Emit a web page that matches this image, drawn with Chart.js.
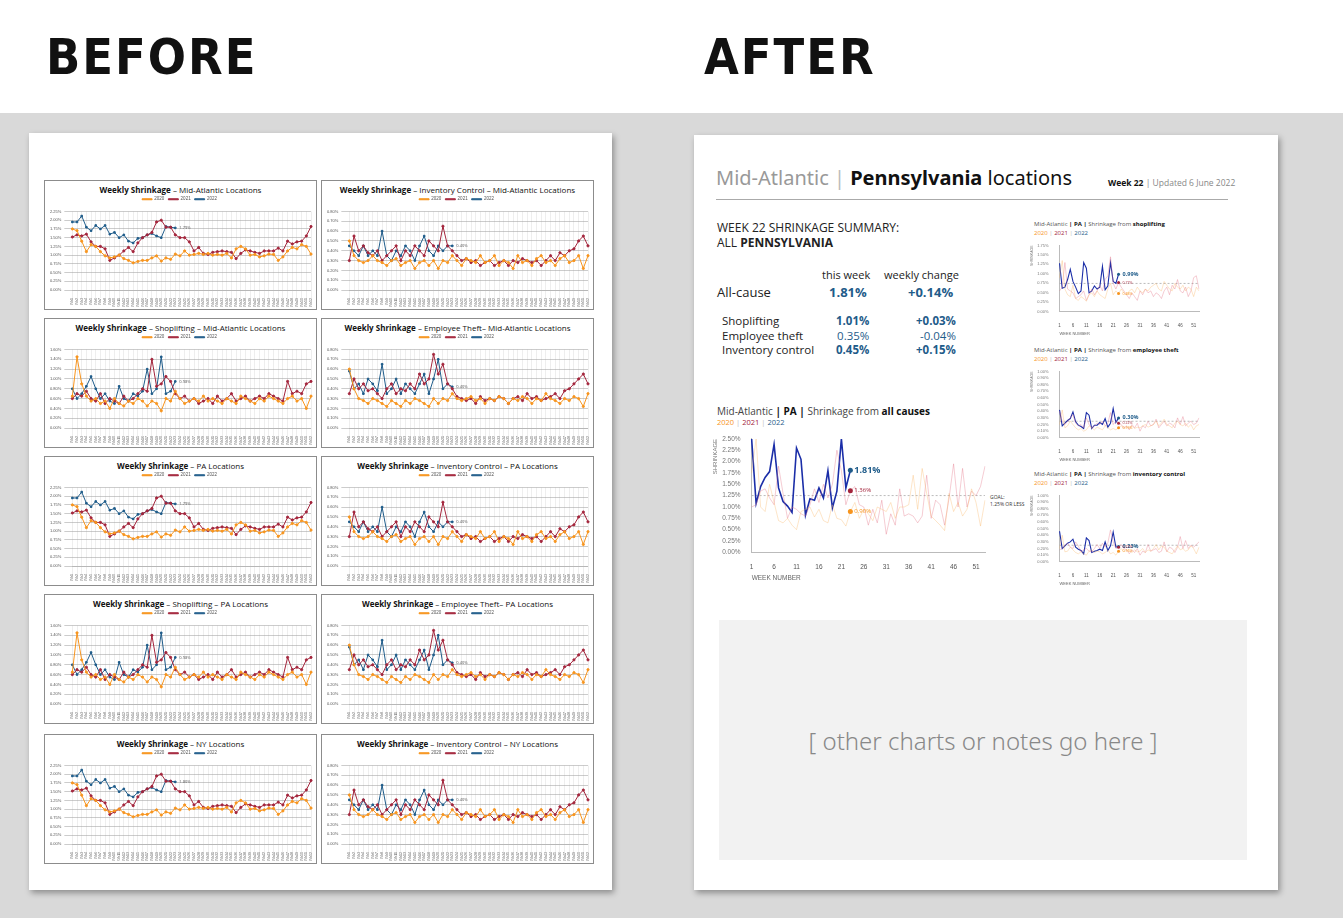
<!DOCTYPE html>
<html>
<head>
<meta charset="utf-8">
<script src="https://cdn.jsdelivr.net/npm/chart.js@4.4.0/dist/chart.umd.min.js"></script>
<style>
  body { margin: 0; width: 1343px; height: 918px; background: #fff; font-family: "Open Sans", sans-serif; position: relative; overflow: hidden; }
  .abs { position: absolute; }
  .hand { font-family: "DejaVu Sans Condensed", "DejaVu Sans", sans-serif; font-weight: bold; font-size: 50px; letter-spacing: 2px; color: #111; }
  .band { left: 0; top: 113px; width: 1343px; height: 805px; background: #d9d9d9; }
  .paper { background: #fff; box-shadow: 2px 3px 6px rgba(0,0,0,0.35); }
  .box { border: 1px solid #8c8c8c; background: #fff; width: 271px; height: 128px; }
  .box .t { position: absolute; left: 0; right: 0; top: 3px; text-align: center; font-family: "Open Sans", sans-serif; font-size: 8px; color: #111; }
  .box canvas { position: absolute; left: 0; top: 12px; }
  .sm { font-size: 7px; color: #555; }
  .yr { font-size: 6px; }
</style>
</head>
<body>
<div class="abs hand" style="left:46px;top:28px;">BEFORE</div>
<div class="abs hand" style="left:704px;top:28px;">AFTER</div>
<div class="abs band"></div>
<div class="abs paper" style="left:29px;top:133px;width:583px;height:757px;"></div>
<div class="abs paper" style="left:694px;top:135px;width:584px;height:755px;"></div>
<div id="before"></div>

<!-- after page text -->
<div class="abs" style="left:716px;top:164px;font-size:20px;font-family:'Noto Sans',sans-serif;color:#999;">Mid-Atlantic <span style="color:#bbb">|</span> <b style="color:#111">Pennsylvania</b> <span style="color:#111">locations</span></div>
<div class="abs" style="left:1108px;top:177px;font-size:8.5px;color:#111;"><b>Week 22</b> <span style="color:#888">| Updated 6 June 2022</span></div>
<div class="abs" style="left:716px;top:199px;width:512px;height:1px;background:#aaa;"></div>

<div class="abs" style="left:717px;top:220px;font-size:12px;color:#222;line-height:15px;">WEEK 22 SHRINKAGE SUMMARY:<br>ALL <b>PENNSYLVANIA</b></div>
<div class="abs" style="left:822px;top:267px;font-size:11px;color:#222;">this week</div>
<div class="abs" style="left:884px;top:267px;font-size:11px;color:#222;">weekly change</div>
<div class="abs" style="left:717px;top:283px;font-size:13px;color:#222;">All-cause</div>
<div class="abs" style="left:829px;top:283px;font-size:13px;color:#1f5c8a;font-weight:bold;">1.81%</div>
<div class="abs" style="left:908px;top:283px;font-size:13px;color:#1f5c8a;font-weight:bold;">+0.14%</div>
<div class="abs" style="left:722px;top:314px;font-size:11.5px;color:#222;line-height:14.5px;">Shoplifting<br>Employee theft<br>Inventory control</div>
<div class="abs" style="left:836px;top:314px;font-size:11.5px;color:#1f5c8a;line-height:14.5px;text-align:right;"><b>1.01%</b><br>0.35%<br><b>0.45%</b></div>
<div class="abs" style="left:916px;top:314px;font-size:11.5px;color:#1f5c8a;line-height:14.5px;text-align:right;"><b>+0.03%</b><br>-0.04%<br><b>+0.15%</b></div>

<div class="abs" style="left:717px;top:404px;font-size:10px;color:#444;">Mid-Atlantic <b style="color:#111">| PA |</b> Shrinkage from <b style="color:#111">all causes</b></div>
<div class="abs" style="left:717px;top:417px;font-size:7.5px;"><span style="color:#f7941d">2020</span> <span style="color:#bbb">|</span> <span style="color:#a3243b">2021</span> <span style="color:#bbb">|</span> <span style="color:#1f5c8a">2022</span></div>
<canvas id="main" class="abs" style="left:712px;top:432px;width:276px;height:150px;"></canvas>
<div class="abs" style="left:990px;top:494px;font-size:5px;color:#333;line-height:7px;">GOAL:<br>1.25% OR LESS</div>

<div class="abs" style="left:719px;top:620px;width:528px;height:240px;background:#f2f2f2;"></div>
<div class="abs" style="left:719px;top:724px;width:528px;text-align:center;font-size:24px;color:#888;font-family:'Noto Sans',sans-serif;font-weight:300;">[ other charts or notes go here ]</div>
<div id="after"></div>

<script>
// ---- BEFORE data (weekly shrinkage %, weeks 1-52; 2022 to week 23) ----
const weeks52 = Array.from({ length: 52 }, (_, i) => 'Wk' + (i + 1));

const all2020 = [1.75,1.70,1.40,1.10,1.30,1.25,1.10,0.98,0.92,0.95,1.00,0.90,0.85,0.78,0.82,0.85,0.85,0.92,0.98,0.83,0.92,0.88,1.03,0.98,1.12,1.00,1.02,1.05,1.02,1.05,1.00,1.02,1.00,1.05,0.92,1.18,1.25,1.18,1.00,1.02,0.95,0.98,1.03,1.02,0.85,0.95,1.12,1.22,1.18,1.30,1.25,1.03];
const all2021 = [1.52,1.58,1.55,1.60,1.38,1.25,1.25,1.18,0.85,0.92,1.00,1.12,1.22,1.10,1.35,1.50,1.58,1.65,1.95,2.00,1.80,1.80,1.58,1.50,1.50,1.38,1.12,1.22,1.05,1.02,1.08,1.10,1.12,1.10,1.08,0.90,1.05,1.15,1.12,1.08,1.05,1.12,1.12,1.12,1.20,1.12,1.40,1.32,1.38,1.40,1.55,1.82];
const all2022 = [1.95,1.95,2.12,1.80,1.70,1.85,1.75,1.85,1.60,1.65,1.50,1.58,1.40,1.35,1.48,1.50,1.58,1.62,1.55,1.50,1.82,1.80,1.78];

const ic2020 = [0.50,0.35,0.30,0.28,0.30,0.35,0.30,0.28,0.25,0.30,0.32,0.25,0.28,0.30,0.22,0.28,0.30,0.25,0.30,0.22,0.30,0.28,0.35,0.30,0.25,0.32,0.30,0.28,0.35,0.28,0.30,0.35,0.25,0.30,0.28,0.22,0.35,0.28,0.30,0.25,0.32,0.35,0.28,0.30,0.25,0.32,0.35,0.28,0.30,0.35,0.22,0.35];
const ic2021 = [0.30,0.55,0.40,0.45,0.38,0.35,0.40,0.30,0.35,0.40,0.45,0.30,0.40,0.35,0.45,0.40,0.35,0.50,0.45,0.40,0.65,0.45,0.40,0.35,0.30,0.32,0.28,0.30,0.25,0.28,0.30,0.25,0.28,0.30,0.25,0.30,0.28,0.32,0.30,0.28,0.30,0.25,0.30,0.35,0.30,0.38,0.35,0.40,0.42,0.50,0.55,0.45];
const ic2022 = [0.45,0.40,0.35,0.45,0.35,0.40,0.35,0.60,0.35,0.30,0.40,0.35,0.45,0.40,0.30,0.45,0.55,0.40,0.35,0.45,0.40,0.45,0.45];

const sh2020 = [0.65,1.45,0.90,0.65,0.55,0.60,0.50,0.55,0.40,0.60,0.50,0.45,0.55,0.50,0.60,0.55,0.45,0.55,0.50,0.35,0.60,0.55,0.75,0.60,0.50,0.55,0.60,0.55,0.65,0.55,0.60,0.55,0.50,0.60,0.55,0.50,0.65,0.60,0.55,0.50,0.60,0.55,0.65,0.60,0.55,0.50,0.60,0.65,0.55,0.60,0.40,0.65];
const sh2021 = [0.60,0.70,0.65,0.75,0.60,0.55,0.70,0.50,0.60,0.55,0.50,0.65,0.55,0.60,0.70,0.80,0.75,1.40,0.85,0.90,1.05,0.95,0.70,0.60,0.65,0.55,0.60,0.50,0.55,0.60,0.50,0.65,0.55,0.60,0.70,0.55,0.60,0.65,0.55,0.60,0.65,0.60,0.70,0.65,0.60,0.55,0.95,0.70,0.75,0.70,0.90,0.95];
const sh2022 = [0.80,0.60,0.70,0.85,1.05,0.80,0.60,0.70,0.55,0.50,0.85,0.60,0.55,0.70,0.65,0.75,1.20,0.70,0.80,1.45,0.70,0.75,0.95];

const et2020 = [0.60,0.40,0.30,0.28,0.25,0.30,0.28,0.25,0.22,0.28,0.25,0.22,0.28,0.25,0.30,0.28,0.25,0.22,0.30,0.25,0.30,0.28,0.35,0.30,0.28,0.30,0.32,0.28,0.30,0.25,0.30,0.28,0.32,0.30,0.25,0.30,0.28,0.32,0.30,0.25,0.30,0.28,0.35,0.30,0.28,0.25,0.30,0.28,0.32,0.30,0.22,0.35];
const et2021 = [0.35,0.50,0.40,0.45,0.38,0.40,0.35,0.30,0.40,0.45,0.35,0.40,0.38,0.45,0.40,0.55,0.45,0.50,0.75,0.55,0.65,0.45,0.40,0.32,0.30,0.28,0.30,0.25,0.32,0.28,0.30,0.28,0.32,0.30,0.25,0.30,0.32,0.28,0.35,0.30,0.32,0.28,0.30,0.32,0.35,0.30,0.38,0.40,0.45,0.50,0.55,0.45];
const et2022 = [0.58,0.40,0.45,0.35,0.50,0.45,0.38,0.65,0.35,0.40,0.50,0.35,0.45,0.40,0.35,0.45,0.55,0.35,0.50,0.70,0.40,0.45,0.42];

// ---- AFTER data (PA, weeks 1-53) ----
const weeks53 = Array.from({ length: 53 }, (_, i) => String(i + 1));
const pa2020 = [1.75,2.50,1.00,0.90,1.50,1.10,0.70,0.65,0.75,0.60,0.50,0.90,0.95,1.00,0.78,0.95,0.70,0.65,1.05,0.75,0.72,0.58,0.90,1.10,0.75,0.95,0.85,0.70,1.00,0.95,0.90,1.10,0.75,1.00,1.00,1.05,1.70,0.95,1.85,1.30,0.80,0.70,0.60,0.48,1.30,0.90,1.10,0.80,0.95,1.40,1.10,0.58,1.15];
const pa2021 = [1.00,1.05,1.35,1.40,1.20,1.05,1.90,1.30,0.75,1.00,0.95,0.85,0.80,1.05,1.40,1.10,1.50,1.20,1.50,2.25,1.80,1.05,1.36,1.45,1.05,1.00,0.60,0.95,0.65,1.15,0.40,0.85,0.60,1.40,0.80,0.85,0.80,0.65,0.80,1.70,0.75,1.15,1.05,0.60,1.20,1.95,1.00,1.85,1.00,1.35,1.25,1.45,1.90];
const pa2022 = [2.50,1.08,1.45,1.65,1.78,2.38,1.42,1.12,1.02,0.88,2.30,2.05,0.82,1.18,1.15,1.42,1.20,1.80,0.98,1.35,2.50,1.42,1.81];

const paSh2020 = [0.90,1.35,0.60,0.45,0.40,0.70,0.35,0.30,0.40,0.35,0.28,0.45,0.50,0.40,0.55,0.45,0.40,0.35,0.60,0.75,0.45,0.55,0.48,0.60,0.50,0.45,0.55,0.60,0.50,0.65,0.55,0.50,0.60,0.55,0.65,0.70,0.75,0.60,0.55,0.80,0.70,0.60,0.55,0.75,0.65,0.60,0.70,0.55,0.65,0.60,0.40,0.65,0.55];
const paSh2021 = [0.55,0.65,1.30,0.60,0.55,0.50,0.35,0.40,0.45,0.55,0.30,0.45,0.60,0.45,0.55,0.70,0.55,0.85,0.95,1.45,0.75,0.60,0.77,0.65,0.55,0.45,0.35,0.50,0.40,0.30,0.55,0.45,0.60,0.50,0.55,0.40,0.50,0.45,0.35,0.55,0.65,0.45,0.70,0.60,0.85,0.55,0.50,0.65,0.40,0.55,0.90,0.95,0.60];
const paSh2022 = [1.28,0.62,0.65,0.85,1.12,0.80,0.65,0.48,0.55,1.30,1.15,0.50,0.55,0.68,0.60,0.65,1.20,0.58,0.68,1.30,0.80,0.75,0.99];

const paEt2020 = [0.20,0.42,0.15,0.18,0.25,0.20,0.15,0.12,0.14,0.10,0.12,0.18,0.15,0.12,0.16,0.14,0.12,0.18,0.15,0.12,0.14,0.12,0.15,0.18,0.14,0.16,0.15,0.18,0.14,0.16,0.15,0.18,0.20,0.16,0.18,0.20,0.25,0.18,0.22,0.28,0.20,0.18,0.15,0.22,0.25,0.20,0.18,0.22,0.16,0.20,0.12,0.18,0.20];
const paEt2021 = [0.40,0.25,0.20,0.25,0.30,0.35,0.22,0.18,0.20,0.15,0.30,0.20,0.15,0.18,0.22,0.20,0.25,0.18,0.22,0.38,0.20,0.25,0.22,0.20,0.15,0.18,0.12,0.20,0.15,0.22,0.10,0.18,0.15,0.25,0.18,0.20,0.28,0.15,0.20,0.25,0.18,0.22,0.20,0.15,0.30,0.20,0.32,0.18,0.22,0.25,0.20,0.22,0.30];
const paEt2022 = [0.42,0.18,0.22,0.26,0.29,0.39,0.24,0.19,0.17,0.14,0.38,0.34,0.14,0.19,0.19,0.23,0.20,0.29,0.16,0.22,0.44,0.23,0.30];

const paIc2020 = [0.20,0.40,0.15,0.16,0.22,0.18,0.14,0.12,0.15,0.12,0.10,0.16,0.18,0.14,0.16,0.15,0.12,0.14,0.18,0.12,0.14,0.10,0.16,0.20,0.15,0.18,0.16,0.14,0.18,0.15,0.16,0.20,0.14,0.18,0.16,0.20,0.26,0.18,0.24,0.22,0.16,0.14,0.12,0.18,0.24,0.18,0.20,0.16,0.18,0.24,0.20,0.12,0.22];
const paIc2021 = [0.18,0.20,0.25,0.28,0.22,0.20,0.30,0.24,0.15,0.18,0.20,0.16,0.15,0.20,0.26,0.20,0.28,0.22,0.28,0.48,0.30,0.20,0.22,0.26,0.20,0.18,0.12,0.18,0.14,0.20,0.10,0.16,0.14,0.26,0.16,0.18,0.20,0.14,0.16,0.30,0.15,0.22,0.20,0.14,0.22,0.38,0.20,0.32,0.20,0.25,0.22,0.26,0.30];
const paIc2022 = [0.46,0.20,0.24,0.28,0.30,0.34,0.22,0.19,0.17,0.12,0.36,0.32,0.14,0.16,0.17,0.19,0.17,0.30,0.17,0.24,0.45,0.22,0.23];

const C2020 = '#f7941d', C2021 = '#a3243b', C2022 = '#1f5c8a';

// ---------- BEFORE charts ----------
const beforeCharts = [
  { title: 'Mid-Atlantic Locations', y: [all2020, all2021, all2022], max: 2.25, step: 0.25, last: '1.79%' },
  { title: 'Inventory Control – Mid-Atlantic Locations', y: [ic2020, ic2021, ic2022], max: 0.80, step: 0.05, last: '0.40%' },
  { title: 'Shoplifting – Mid-Atlantic Locations', y: [sh2020, sh2021, sh2022], max: 1.60, step: 0.20, last: '0.98%' },
  { title: 'Employee Theft– Mid-Atlantic Locations', y: [et2020, et2021, et2022], max: 0.80, step: 0.05, last: '0.40%' },
  { title: 'PA Locations', y: [all2020, all2021, all2022], max: 2.25, step: 0.25, last: '1.79%' },
  { title: 'Inventory Control – PA Locations', y: [ic2020, ic2021, ic2022], max: 0.80, step: 0.05, last: '0.40%' },
  { title: 'Shoplifting – PA Locations', y: [sh2020, sh2021, sh2022], max: 1.60, step: 0.20, last: '0.98%' },
  { title: 'Employee Theft– PA Locations', y: [et2020, et2021, et2022], max: 0.80, step: 0.05, last: '0.40%' },
  { title: 'NY Locations', y: [all2020, all2021, all2022], max: 2.25, step: 0.25, last: '1.80%' },
  { title: 'Inventory Control – NY Locations', y: [ic2020, ic2021, ic2022], max: 0.80, step: 0.05, last: '0.40%' }
];
const colX = [44, 321];
const rowY = [180, 318, 456, 594, 734];

// draws a small value label after the last point of a chosen dataset
const endLabels = {
  id: 'endLabels',
  afterDatasetsDraw(chart, args, opts) {
    if (!opts.marks) return;
    const ctx = chart.ctx;
    opts.marks.forEach(m => {
      const pt = chart.getDatasetMeta(m.ds).data[m.idx];
      if (!pt) return;
      ctx.save();
      if (m.dot) {
        ctx.fillStyle = m.color;
        ctx.beginPath(); ctx.arc(pt.x, pt.y, m.dot, 0, Math.PI * 2); ctx.fill();
      }
      ctx.fillStyle = m.color;
      ctx.font = (m.bold ? 'bold ' : '') + m.size + 'px "Open Sans", sans-serif';
      ctx.textBaseline = 'middle';
      ctx.fillText(m.text, pt.x + (m.dx || 4), pt.y);
      ctx.restore();
    });
  }
};
// dashed goal line
const goalLine = {
  id: 'goalLine',
  beforeDatasetsDraw(chart, args, opts) {
    if (opts.value == null) return;
    const y = chart.scales.y.getPixelForValue(opts.value);
    const ctx = chart.ctx;
    ctx.save();
    ctx.strokeStyle = '#aaa'; ctx.lineWidth = 0.8; ctx.setLineDash([2, 2]);
    ctx.beginPath(); ctx.moveTo(chart.chartArea.left, y); ctx.lineTo(chart.chartArea.right, y); ctx.stroke();
    ctx.restore();
  }
};

const host = document.getElementById('before');
beforeCharts.forEach((c, i) => {
  const box = document.createElement('div');
  box.className = 'abs box';
  box.style.left = colX[i % 2] + 'px';
  box.style.top = rowY[Math.floor(i / 2)] + 'px';
  box.innerHTML = '<div class="t"><b>Weekly Shrinkage</b> – ' + c.title + '</div><canvas style="width:271px;height:116px"></canvas>';
  host.appendChild(box);
  const cv = box.querySelector('canvas');
  const mk = (label, data, color, shape) => ({
    label, data, borderColor: color, backgroundColor: color, borderWidth: 1,
    pointRadius: 1.1, pointStyle: shape, tension: 0
  });
  new Chart(cv, {
    type: 'line',
    data: {
      labels: weeks52,
      datasets: [mk('2020', c.y[0], C2020, 'circle'), mk('2021', c.y[1], C2021, 'circle'), mk('2022', c.y[2], C2022, 'rect')]
    },
    plugins: [endLabels],
    options: {
      responsive: false, animation: false,
      layout: { padding: { right: 4, left: 2, bottom: 2 } },
      plugins: {
        legend: { labels: { boxWidth: 10, boxHeight: 1, font: { size: 4.5 }, color: '#555', padding: 4 } },
        tooltip: { enabled: false },
        endLabels: { marks: [{ ds: 2, idx: 22, text: c.last, color: '#555', size: 4 }] }
      },
      scales: {
        x: { grid: { color: '#ddd', lineWidth: 0.5 }, ticks: { font: { size: 3.5 }, color: '#555', autoSkip: false, maxRotation: 90, minRotation: 90, padding: 0 } },
        y: { min: 0, max: c.max, grid: { color: '#999', lineWidth: 0.5 }, border: { display: false },
             ticks: { stepSize: c.step, font: { size: 4 }, color: '#555', callback: v => v.toFixed(2) + '%' } }
      }
    }
  });
});

// ---------- AFTER charts ----------
function afterChart(canvas, ys, max, step, goal, marks, big) {
  const faint = (data, color) => ({ data, borderColor: color, borderWidth: 1, pointRadius: 0, tension: 0 });
  new Chart(canvas, {
    type: 'line',
    data: {
      labels: weeks53,
      datasets: [
        faint(ys[0], 'rgba(250,180,100,0.35)'),
        faint(ys[1], 'rgba(225,110,130,0.35)'),
        { data: ys[2], borderColor: '#1b2ea8', borderWidth: big ? 1.6 : 1.1, pointRadius: 0, tension: 0 }
      ]
    },
    plugins: [endLabels, goalLine],
    options: {
      responsive: false, animation: false,
      layout: { padding: { right: 2 } },
      plugins: {
        legend: { display: false }, tooltip: { enabled: false },
        endLabels: { marks }, goalLine: { value: goal }
      },
      scales: {
        x: {
          grid: { display: false }, border: { color: '#bbb' },
          ticks: { autoSkip: false, maxRotation: 0, font: { size: big ? 6.5 : 4.5 }, color: '#555',
                   callback: (v, i) => (i % 5 === 0 ? weeks53[i] : '') },
          title: { display: true, text: 'WEEK NUMBER', align: 'start', font: { size: big ? 6.5 : 4 }, color: '#666', padding: 0 }
        },
        y: {
          min: 0, max, grid: { display: false }, border: { color: '#bbb' },
          ticks: { stepSize: step, autoSkip: false, font: { size: big ? 6.5 : 4 }, color: '#777', callback: v => v.toFixed(2) + '%' },
          title: { display: true, text: 'SHRINKAGE', align: 'end', font: { size: big ? 6 : 3.5 }, color: '#777', padding: 0 }
        }
      }
    }
  });
}
const dotMarks = (a, b, c, big) => [
  { ds: 2, idx: 22, text: a, color: C2022, size: big ? 9 : 5.5, bold: true, dot: big ? 2.5 : 1.5 },
  { ds: 1, idx: 22, text: b, color: C2021, size: big ? 6 : 3.5, dot: big ? 2.5 : 1.5 },
  { ds: 0, idx: 22, text: c, color: C2020, size: big ? 6 : 3.5, dot: big ? 2.5 : 1.5 }
];
afterChart(document.getElementById('main'), [pa2020, pa2021, pa2022], 2.5, 0.25, 1.25, dotMarks('1.81%', '1.36%', '0.90%', true), true);

const smalls = [
  { top: 220, what: 'shoplifting', ys: [paSh2020, paSh2021, paSh2022], max: 1.75, step: 0.25, goal: 0.75, m: ['0.99%', '0.77%', '0.48%'], g: '0.75% OR LESS' },
  { top: 346, what: 'employee theft', ys: [paEt2020, paEt2021, paEt2022], max: 1.0, step: 0.10, goal: 0.25, m: ['0.30%', '0.22%', '0.15%'], g: '0.25% OR LESS' },
  { top: 470, what: 'inventory control', ys: [paIc2020, paIc2021, paIc2022], max: 1.0, step: 0.10, goal: 0.25, m: ['0.23%', '0.22%', '0.16%'], g: '0.25% OR LESS' }
];
const ah = document.getElementById('after');
smalls.forEach(s => {
  const d = document.createElement('div');
  d.innerHTML =
    '<div class="abs sm" style="left:1034px;top:' + s.top + 'px;font-size:6px;">Mid-Atlantic <b style="color:#111">| PA |</b> Shrinkage from <b style="color:#111">' + s.what + '</b></div>' +
    '<div class="abs yr" style="left:1034px;top:' + (s.top + 9) + 'px;"><span style="color:#f7941d">2020</span> <span style="color:#bbb">|</span> <span style="color:#a3243b">2021</span> <span style="color:#bbb">|</span> <span style="color:#1f5c8a">2022</span></div>' +
    '<canvas class="abs" style="left:1030px;top:' + (s.top + 20) + 'px;width:172px;height:96px;"></canvas>' +
    '';
  ah.appendChild(d);
  afterChart(d.querySelector('canvas'), s.ys, s.max, s.step, s.goal, dotMarks(s.m[0], s.m[1], s.m[2], false), false);
});
</script>
</body>
</html>
